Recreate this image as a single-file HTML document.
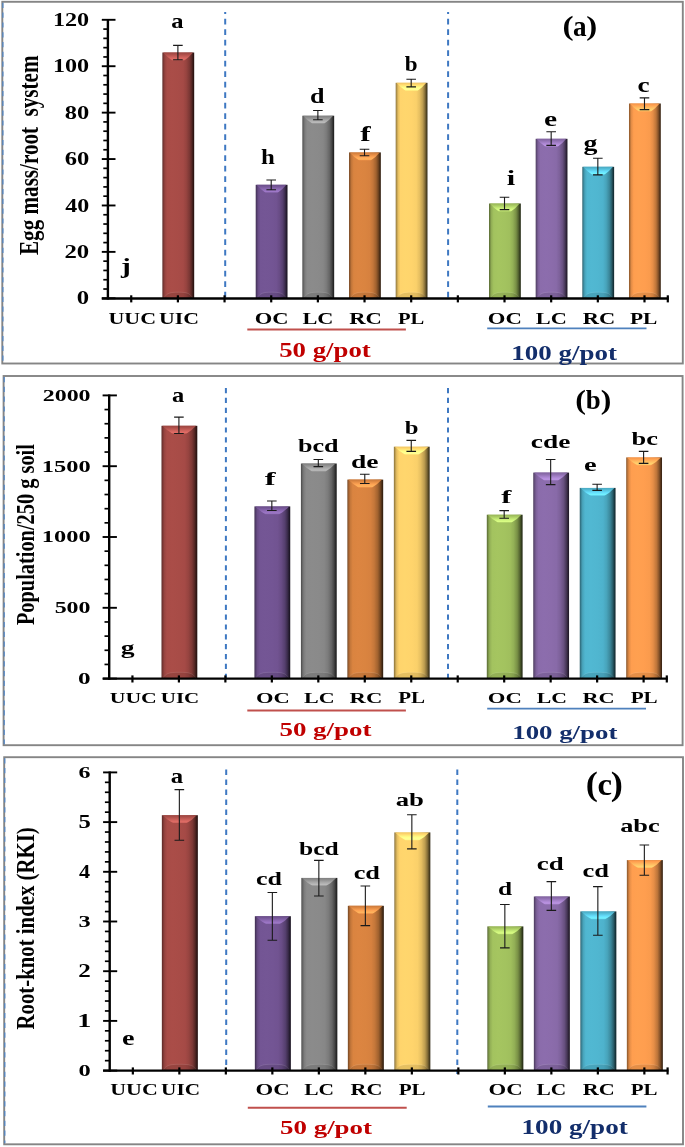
<!DOCTYPE html>
<html><head><meta charset="utf-8"><title>Figure</title>
<style>html,body{margin:0;padding:0;background:#fff;} svg{display:block;will-change:transform} text{font-family:'Liberation Serif',serif;font-weight:bold}</style>
</head><body>
<svg width="685" height="1147" viewBox="0 0 685 1147">
<rect width="685" height="1147" fill="#fff"/>
<defs><linearGradient id="h_red" x1="0" y1="0" x2="1" y2="0"><stop offset="0.00" stop-color="#542624"/><stop offset="0.03" stop-color="#763532"/><stop offset="0.08" stop-color="#974440"/><stop offset="0.15" stop-color="#a84c47"/><stop offset="0.30" stop-color="#aa4d48"/><stop offset="0.50" stop-color="#a84c47"/><stop offset="0.65" stop-color="#a54a46"/><stop offset="0.75" stop-color="#974440"/><stop offset="0.85" stop-color="#7c3835"/><stop offset="0.92" stop-color="#572825"/><stop offset="0.97" stop-color="#321715"/><stop offset="1.00" stop-color="#220f0e"/></linearGradient><linearGradient id="t_red" x1="0" y1="0" x2="0" y2="1"><stop offset="0" stop-color="#9b4641"/><stop offset="0.18" stop-color="#a84c47"/><stop offset="0.6" stop-color="#ce625c"/><stop offset="0.85" stop-color="#e16d66"/><stop offset="1" stop-color="#c25b56"/></linearGradient><linearGradient id="b_red" x1="0" y1="0" x2="0" y2="1"><stop offset="0" stop-color="#fff" stop-opacity="0.10"/><stop offset="0.2" stop-color="#000" stop-opacity="0.06"/><stop offset="1" stop-color="#000" stop-opacity="0.14"/></linearGradient><linearGradient id="h_pdark" x1="0" y1="0" x2="1" y2="0"><stop offset="0.00" stop-color="#3a2a4a"/><stop offset="0.03" stop-color="#503b68"/><stop offset="0.08" stop-color="#684c85"/><stop offset="0.15" stop-color="#735594"/><stop offset="0.30" stop-color="#745695"/><stop offset="0.50" stop-color="#735594"/><stop offset="0.65" stop-color="#715391"/><stop offset="0.75" stop-color="#684c85"/><stop offset="0.85" stop-color="#553f6e"/><stop offset="0.92" stop-color="#3c2c4d"/><stop offset="0.97" stop-color="#221a2c"/><stop offset="1.00" stop-color="#17111e"/></linearGradient><linearGradient id="t_pdark" x1="0" y1="0" x2="0" y2="1"><stop offset="0" stop-color="#6a4e88"/><stop offset="0.18" stop-color="#735594"/><stop offset="0.6" stop-color="#906cb7"/><stop offset="0.85" stop-color="#9e78c8"/><stop offset="1" stop-color="#8765ac"/></linearGradient><linearGradient id="b_pdark" x1="0" y1="0" x2="0" y2="1"><stop offset="0" stop-color="#fff" stop-opacity="0.10"/><stop offset="0.2" stop-color="#000" stop-opacity="0.06"/><stop offset="1" stop-color="#000" stop-opacity="0.14"/></linearGradient><linearGradient id="h_grey" x1="0" y1="0" x2="1" y2="0"><stop offset="0.00" stop-color="#454545"/><stop offset="0.03" stop-color="#616161"/><stop offset="0.08" stop-color="#7c7c7c"/><stop offset="0.15" stop-color="#8a8a8a"/><stop offset="0.30" stop-color="#8b8b8b"/><stop offset="0.50" stop-color="#8a8a8a"/><stop offset="0.65" stop-color="#878787"/><stop offset="0.75" stop-color="#7c7c7c"/><stop offset="0.85" stop-color="#666666"/><stop offset="0.92" stop-color="#484848"/><stop offset="0.97" stop-color="#292929"/><stop offset="1.00" stop-color="#1c1c1c"/></linearGradient><linearGradient id="t_grey" x1="0" y1="0" x2="0" y2="1"><stop offset="0" stop-color="#7f7f7f"/><stop offset="0.18" stop-color="#8a8a8a"/><stop offset="0.6" stop-color="#ababab"/><stop offset="0.85" stop-color="#bbbbbb"/><stop offset="1" stop-color="#a1a1a1"/></linearGradient><linearGradient id="b_grey" x1="0" y1="0" x2="0" y2="1"><stop offset="0" stop-color="#fff" stop-opacity="0.10"/><stop offset="0.2" stop-color="#000" stop-opacity="0.06"/><stop offset="1" stop-color="#000" stop-opacity="0.14"/></linearGradient><linearGradient id="h_obrown" x1="0" y1="0" x2="1" y2="0"><stop offset="0.00" stop-color="#6d4220"/><stop offset="0.03" stop-color="#995c2d"/><stop offset="0.08" stop-color="#c4773a"/><stop offset="0.15" stop-color="#da8440"/><stop offset="0.30" stop-color="#dc8541"/><stop offset="0.50" stop-color="#da8440"/><stop offset="0.65" stop-color="#d6813f"/><stop offset="0.75" stop-color="#c4773a"/><stop offset="0.85" stop-color="#a1622f"/><stop offset="0.92" stop-color="#714521"/><stop offset="0.97" stop-color="#412813"/><stop offset="1.00" stop-color="#2c1a0d"/></linearGradient><linearGradient id="t_obrown" x1="0" y1="0" x2="0" y2="1"><stop offset="0" stop-color="#c9793b"/><stop offset="0.18" stop-color="#da8440"/><stop offset="0.6" stop-color="#ffa454"/><stop offset="0.85" stop-color="#ffb45d"/><stop offset="1" stop-color="#fa9a4e"/></linearGradient><linearGradient id="b_obrown" x1="0" y1="0" x2="0" y2="1"><stop offset="0" stop-color="#fff" stop-opacity="0.10"/><stop offset="0.2" stop-color="#000" stop-opacity="0.06"/><stop offset="1" stop-color="#000" stop-opacity="0.14"/></linearGradient><linearGradient id="h_gold" x1="0" y1="0" x2="1" y2="0"><stop offset="0.00" stop-color="#806a36"/><stop offset="0.03" stop-color="#b2944c"/><stop offset="0.08" stop-color="#e6bf61"/><stop offset="0.15" stop-color="#ffd46c"/><stop offset="0.30" stop-color="#ffd66d"/><stop offset="0.50" stop-color="#ffd46c"/><stop offset="0.65" stop-color="#fad06a"/><stop offset="0.75" stop-color="#e6bf61"/><stop offset="0.85" stop-color="#bd9d50"/><stop offset="0.92" stop-color="#856e38"/><stop offset="0.97" stop-color="#4c4020"/><stop offset="1.00" stop-color="#332a16"/></linearGradient><linearGradient id="t_gold" x1="0" y1="0" x2="0" y2="1"><stop offset="0" stop-color="#ebc363"/><stop offset="0.18" stop-color="#ffd46c"/><stop offset="0.6" stop-color="#ffff87"/><stop offset="0.85" stop-color="#ffff95"/><stop offset="1" stop-color="#fff37f"/></linearGradient><linearGradient id="b_gold" x1="0" y1="0" x2="0" y2="1"><stop offset="0" stop-color="#fff" stop-opacity="0.10"/><stop offset="0.2" stop-color="#000" stop-opacity="0.06"/><stop offset="1" stop-color="#000" stop-opacity="0.14"/></linearGradient><linearGradient id="h_green" x1="0" y1="0" x2="1" y2="0"><stop offset="0.00" stop-color="#526230"/><stop offset="0.03" stop-color="#728842"/><stop offset="0.08" stop-color="#93b056"/><stop offset="0.15" stop-color="#a3c35f"/><stop offset="0.30" stop-color="#a5c560"/><stop offset="0.50" stop-color="#a3c35f"/><stop offset="0.65" stop-color="#a0bf5d"/><stop offset="0.75" stop-color="#93b056"/><stop offset="0.85" stop-color="#799046"/><stop offset="0.92" stop-color="#556531"/><stop offset="0.97" stop-color="#313a1c"/><stop offset="1.00" stop-color="#212713"/></linearGradient><linearGradient id="t_green" x1="0" y1="0" x2="0" y2="1"><stop offset="0" stop-color="#96b357"/><stop offset="0.18" stop-color="#a3c35f"/><stop offset="0.6" stop-color="#c8ee78"/><stop offset="0.85" stop-color="#dbff85"/><stop offset="1" stop-color="#bde070"/></linearGradient><linearGradient id="b_green" x1="0" y1="0" x2="0" y2="1"><stop offset="0" stop-color="#fff" stop-opacity="0.10"/><stop offset="0.2" stop-color="#000" stop-opacity="0.06"/><stop offset="1" stop-color="#000" stop-opacity="0.14"/></linearGradient><linearGradient id="h_purple" x1="0" y1="0" x2="1" y2="0"><stop offset="0.00" stop-color="#463656"/><stop offset="0.03" stop-color="#614c78"/><stop offset="0.08" stop-color="#7d619a"/><stop offset="0.15" stop-color="#8b6cab"/><stop offset="0.30" stop-color="#8c6dad"/><stop offset="0.50" stop-color="#8b6cab"/><stop offset="0.65" stop-color="#886aa8"/><stop offset="0.75" stop-color="#7d619a"/><stop offset="0.85" stop-color="#67507f"/><stop offset="0.92" stop-color="#483859"/><stop offset="0.97" stop-color="#2a2033"/><stop offset="1.00" stop-color="#1c1622"/></linearGradient><linearGradient id="t_purple" x1="0" y1="0" x2="0" y2="1"><stop offset="0" stop-color="#80639d"/><stop offset="0.18" stop-color="#8b6cab"/><stop offset="0.6" stop-color="#ac87d2"/><stop offset="0.85" stop-color="#bd95e5"/><stop offset="1" stop-color="#a27fc6"/></linearGradient><linearGradient id="b_purple" x1="0" y1="0" x2="0" y2="1"><stop offset="0" stop-color="#fff" stop-opacity="0.10"/><stop offset="0.2" stop-color="#000" stop-opacity="0.06"/><stop offset="1" stop-color="#000" stop-opacity="0.14"/></linearGradient><linearGradient id="h_teal" x1="0" y1="0" x2="1" y2="0"><stop offset="0.00" stop-color="#285b68"/><stop offset="0.03" stop-color="#387f92"/><stop offset="0.08" stop-color="#48a4bb"/><stop offset="0.15" stop-color="#50b6d0"/><stop offset="0.30" stop-color="#51b8d2"/><stop offset="0.50" stop-color="#50b6d0"/><stop offset="0.65" stop-color="#4eb2cc"/><stop offset="0.75" stop-color="#48a4bb"/><stop offset="0.85" stop-color="#3b879a"/><stop offset="0.92" stop-color="#2a5f6c"/><stop offset="0.97" stop-color="#18373e"/><stop offset="1.00" stop-color="#10242a"/></linearGradient><linearGradient id="t_teal" x1="0" y1="0" x2="0" y2="1"><stop offset="0" stop-color="#4aa7bf"/><stop offset="0.18" stop-color="#50b6d0"/><stop offset="0.6" stop-color="#66dffd"/><stop offset="0.85" stop-color="#72f3ff"/><stop offset="1" stop-color="#60d2ef"/></linearGradient><linearGradient id="b_teal" x1="0" y1="0" x2="0" y2="1"><stop offset="0" stop-color="#fff" stop-opacity="0.10"/><stop offset="0.2" stop-color="#000" stop-opacity="0.06"/><stop offset="1" stop-color="#000" stop-opacity="0.14"/></linearGradient><linearGradient id="h_orange" x1="0" y1="0" x2="1" y2="0"><stop offset="0.00" stop-color="#804f28"/><stop offset="0.03" stop-color="#b26f37"/><stop offset="0.08" stop-color="#e68e47"/><stop offset="0.15" stop-color="#ff9e4f"/><stop offset="0.30" stop-color="#ffa050"/><stop offset="0.50" stop-color="#ff9e4f"/><stop offset="0.65" stop-color="#fa9b4d"/><stop offset="0.75" stop-color="#e68e47"/><stop offset="0.85" stop-color="#bd753a"/><stop offset="0.92" stop-color="#855229"/><stop offset="0.97" stop-color="#4c2f18"/><stop offset="1.00" stop-color="#332010"/></linearGradient><linearGradient id="t_orange" x1="0" y1="0" x2="0" y2="1"><stop offset="0" stop-color="#eb9149"/><stop offset="0.18" stop-color="#ff9e4f"/><stop offset="0.6" stop-color="#ffc265"/><stop offset="0.85" stop-color="#ffd570"/><stop offset="1" stop-color="#ffb75e"/></linearGradient><linearGradient id="b_orange" x1="0" y1="0" x2="0" y2="1"><stop offset="0" stop-color="#fff" stop-opacity="0.10"/><stop offset="0.2" stop-color="#000" stop-opacity="0.06"/><stop offset="1" stop-color="#000" stop-opacity="0.14"/></linearGradient></defs>
<rect x="2.30" y="1.80" width="680.50" height="361.70" fill="none" stroke="#858585" stroke-width="1.9"/>
<line x1="2.90" y1="2.80" x2="2.90" y2="362.50" stroke="#4F86C8" stroke-width="1.2" stroke-dasharray="5.2 4.6" stroke-dashoffset="0"/>
<line x1="225.20" y1="12.00" x2="225.20" y2="298.00" stroke="#3E78C2" stroke-width="2.0" stroke-dasharray="5.7 4.8" stroke-dashoffset="3.7"/>
<line x1="448.10" y1="12.00" x2="448.10" y2="298.00" stroke="#3E78C2" stroke-width="2.0" stroke-dasharray="5.7 4.8" stroke-dashoffset="3.7"/>
<rect x="162.39" y="52.50" width="31.80" height="246.00" fill="url(#h_red)"/>
<path d="M163.19,52.50 L192.99,52.50 Q188.67,57.71 184.33,60.40 L172.25,60.40 Q167.91,57.71 163.19,52.50 Z" fill="url(#t_red)"/>
<path d="M163.39,298.50 C166.39,293.30 170.39,292.50 178.29,292.50 C186.19,292.50 190.19,293.30 193.19,298.50 Z" fill="#000" fill-opacity="0.10"/>
<path d="M163.89,298.00 C166.89,293.00 170.39,292.20 178.29,292.20 C186.19,292.20 189.69,293.00 192.69,298.00" fill="none" stroke="#fff" stroke-opacity="0.10" stroke-width="1"/>
<rect x="255.71" y="184.80" width="31.80" height="113.70" fill="url(#h_pdark)"/>
<path d="M256.51,184.80 L286.31,184.80 Q281.99,190.01 277.65,192.70 L265.57,192.70 Q261.23,190.01 256.51,184.80 Z" fill="url(#t_pdark)"/>
<path d="M256.71,298.50 C259.71,293.30 263.71,292.50 271.61,292.50 C279.51,292.50 283.51,293.30 286.51,298.50 Z" fill="#000" fill-opacity="0.10"/>
<path d="M257.21,298.00 C260.21,293.00 263.71,292.20 271.61,292.20 C279.51,292.20 283.01,293.00 286.01,298.00" fill="none" stroke="#fff" stroke-opacity="0.10" stroke-width="1"/>
<rect x="302.37" y="115.70" width="31.80" height="182.80" fill="url(#h_grey)"/>
<path d="M303.17,115.70 L332.97,115.70 Q328.65,120.91 324.31,123.60 L312.23,123.60 Q307.89,120.91 303.17,115.70 Z" fill="url(#t_grey)"/>
<path d="M303.37,298.50 C306.37,293.30 310.37,292.50 318.27,292.50 C326.17,292.50 330.17,293.30 333.17,298.50 Z" fill="#000" fill-opacity="0.10"/>
<path d="M303.87,298.00 C306.87,293.00 310.37,292.20 318.27,292.20 C326.17,292.20 329.67,293.00 332.67,298.00" fill="none" stroke="#fff" stroke-opacity="0.10" stroke-width="1"/>
<rect x="349.03" y="152.40" width="31.80" height="146.10" fill="url(#h_obrown)"/>
<path d="M349.83,152.40 L379.63,152.40 Q375.31,157.61 370.97,160.30 L358.89,160.30 Q354.55,157.61 349.83,152.40 Z" fill="url(#t_obrown)"/>
<path d="M350.03,298.50 C353.03,293.30 357.03,292.50 364.93,292.50 C372.83,292.50 376.83,293.30 379.83,298.50 Z" fill="#000" fill-opacity="0.10"/>
<path d="M350.53,298.00 C353.53,293.00 357.03,292.20 364.93,292.20 C372.83,292.20 376.33,293.00 379.33,298.00" fill="none" stroke="#fff" stroke-opacity="0.10" stroke-width="1"/>
<rect x="395.69" y="82.80" width="31.80" height="215.70" fill="url(#h_gold)"/>
<path d="M396.49,82.80 L426.29,82.80 Q421.97,88.01 417.63,90.70 L405.55,90.70 Q401.21,88.01 396.49,82.80 Z" fill="url(#t_gold)"/>
<path d="M396.69,298.50 C399.69,293.30 403.69,292.50 411.59,292.50 C419.49,292.50 423.49,293.30 426.49,298.50 Z" fill="#000" fill-opacity="0.10"/>
<path d="M397.19,298.00 C400.19,293.00 403.69,292.20 411.59,292.20 C419.49,292.20 422.99,293.00 425.99,298.00" fill="none" stroke="#fff" stroke-opacity="0.10" stroke-width="1"/>
<rect x="489.01" y="203.50" width="31.80" height="95.00" fill="url(#h_green)"/>
<path d="M489.81,203.50 L519.61,203.50 Q515.29,208.71 510.95,211.40 L498.87,211.40 Q494.53,208.71 489.81,203.50 Z" fill="url(#t_green)"/>
<path d="M490.01,298.50 C493.01,293.30 497.01,292.50 504.91,292.50 C512.81,292.50 516.81,293.30 519.81,298.50 Z" fill="#000" fill-opacity="0.10"/>
<path d="M490.51,298.00 C493.51,293.00 497.01,292.20 504.91,292.20 C512.81,292.20 516.31,293.00 519.31,298.00" fill="none" stroke="#fff" stroke-opacity="0.10" stroke-width="1"/>
<rect x="535.67" y="138.80" width="31.80" height="159.70" fill="url(#h_purple)"/>
<path d="M536.47,138.80 L566.27,138.80 Q561.95,144.01 557.61,146.70 L545.53,146.70 Q541.19,144.01 536.47,138.80 Z" fill="url(#t_purple)"/>
<path d="M536.67,298.50 C539.67,293.30 543.67,292.50 551.57,292.50 C559.47,292.50 563.47,293.30 566.47,298.50 Z" fill="#000" fill-opacity="0.10"/>
<path d="M537.17,298.00 C540.17,293.00 543.67,292.20 551.57,292.20 C559.47,292.20 562.97,293.00 565.97,298.00" fill="none" stroke="#fff" stroke-opacity="0.10" stroke-width="1"/>
<rect x="582.33" y="166.80" width="31.80" height="131.70" fill="url(#h_teal)"/>
<path d="M583.13,166.80 L612.93,166.80 Q608.61,172.01 604.27,174.70 L592.19,174.70 Q587.85,172.01 583.13,166.80 Z" fill="url(#t_teal)"/>
<path d="M583.33,298.50 C586.33,293.30 590.33,292.50 598.23,292.50 C606.13,292.50 610.13,293.30 613.13,298.50 Z" fill="#000" fill-opacity="0.10"/>
<path d="M583.83,298.00 C586.83,293.00 590.33,292.20 598.23,292.20 C606.13,292.20 609.63,293.00 612.63,298.00" fill="none" stroke="#fff" stroke-opacity="0.10" stroke-width="1"/>
<rect x="628.99" y="103.50" width="31.80" height="195.00" fill="url(#h_orange)"/>
<path d="M629.79,103.50 L659.59,103.50 Q655.27,108.71 650.93,111.40 L638.85,111.40 Q634.51,108.71 629.79,103.50 Z" fill="url(#t_orange)"/>
<path d="M629.99,298.50 C632.99,293.30 636.99,292.50 644.89,292.50 C652.79,292.50 656.79,293.30 659.79,298.50 Z" fill="#000" fill-opacity="0.10"/>
<path d="M630.49,298.00 C633.49,293.00 636.99,292.20 644.89,292.20 C652.79,292.20 656.29,293.00 659.29,298.00" fill="none" stroke="#fff" stroke-opacity="0.10" stroke-width="1"/>
<path d="M177.89,45.40V59.70M173.09,45.40H182.69M173.09,59.70H182.69" stroke="#1a1a1a" stroke-width="1.1" fill="none"/>
<path d="M271.21,180.00V189.70M266.41,180.00H276.01M266.41,189.70H276.01" stroke="#1a1a1a" stroke-width="1.1" fill="none"/>
<path d="M317.87,110.50V119.80M313.07,110.50H322.67M313.07,119.80H322.67" stroke="#1a1a1a" stroke-width="1.1" fill="none"/>
<path d="M364.53,149.20V155.70M359.73,149.20H369.33M359.73,155.70H369.33" stroke="#1a1a1a" stroke-width="1.1" fill="none"/>
<path d="M411.19,79.30V86.90M406.39,79.30H415.99M406.39,86.90H415.99" stroke="#1a1a1a" stroke-width="1.1" fill="none"/>
<path d="M504.51,197.20V209.60M499.71,197.20H509.31M499.71,209.60H509.31" stroke="#1a1a1a" stroke-width="1.1" fill="none"/>
<path d="M551.17,131.80V145.40M546.37,131.80H555.97M546.37,145.40H555.97" stroke="#1a1a1a" stroke-width="1.1" fill="none"/>
<path d="M597.83,158.20V174.90M593.03,158.20H602.63M593.03,174.90H602.63" stroke="#1a1a1a" stroke-width="1.1" fill="none"/>
<path d="M644.49,97.90V109.60M639.69,97.90H649.29M639.69,109.60H649.29" stroke="#1a1a1a" stroke-width="1.1" fill="none"/>
<line x1="107.90" y1="18.90" x2="107.90" y2="299.60" stroke="#000" stroke-width="2.4"/>
<line x1="101.80" y1="298.50" x2="668.60" y2="298.50" stroke="#000" stroke-width="2.3"/>
<line x1="101.80" y1="298.30" x2="115.50" y2="298.30" stroke="#000" stroke-width="1.9"/>
<line x1="101.80" y1="251.88" x2="115.50" y2="251.88" stroke="#000" stroke-width="1.9"/>
<line x1="101.80" y1="205.47" x2="115.50" y2="205.47" stroke="#000" stroke-width="1.9"/>
<line x1="101.80" y1="159.05" x2="115.50" y2="159.05" stroke="#000" stroke-width="1.9"/>
<line x1="101.80" y1="112.64" x2="115.50" y2="112.64" stroke="#000" stroke-width="1.9"/>
<line x1="101.80" y1="66.22" x2="115.50" y2="66.22" stroke="#000" stroke-width="1.9"/>
<line x1="101.80" y1="19.80" x2="115.50" y2="19.80" stroke="#000" stroke-width="1.9"/>
<line x1="103.30" y1="289.02" x2="107.90" y2="289.02" stroke="#000" stroke-width="1.7"/>
<line x1="103.30" y1="279.73" x2="107.90" y2="279.73" stroke="#000" stroke-width="1.7"/>
<line x1="103.30" y1="270.45" x2="107.90" y2="270.45" stroke="#000" stroke-width="1.7"/>
<line x1="103.30" y1="261.17" x2="107.90" y2="261.17" stroke="#000" stroke-width="1.7"/>
<line x1="103.30" y1="242.60" x2="107.90" y2="242.60" stroke="#000" stroke-width="1.7"/>
<line x1="103.30" y1="233.32" x2="107.90" y2="233.32" stroke="#000" stroke-width="1.7"/>
<line x1="103.30" y1="224.03" x2="107.90" y2="224.03" stroke="#000" stroke-width="1.7"/>
<line x1="103.30" y1="214.75" x2="107.90" y2="214.75" stroke="#000" stroke-width="1.7"/>
<line x1="103.30" y1="196.18" x2="107.90" y2="196.18" stroke="#000" stroke-width="1.7"/>
<line x1="103.30" y1="186.90" x2="107.90" y2="186.90" stroke="#000" stroke-width="1.7"/>
<line x1="103.30" y1="177.62" x2="107.90" y2="177.62" stroke="#000" stroke-width="1.7"/>
<line x1="103.30" y1="168.34" x2="107.90" y2="168.34" stroke="#000" stroke-width="1.7"/>
<line x1="103.30" y1="149.77" x2="107.90" y2="149.77" stroke="#000" stroke-width="1.7"/>
<line x1="103.30" y1="140.49" x2="107.90" y2="140.49" stroke="#000" stroke-width="1.7"/>
<line x1="103.30" y1="131.20" x2="107.90" y2="131.20" stroke="#000" stroke-width="1.7"/>
<line x1="103.30" y1="121.92" x2="107.90" y2="121.92" stroke="#000" stroke-width="1.7"/>
<line x1="103.30" y1="103.35" x2="107.90" y2="103.35" stroke="#000" stroke-width="1.7"/>
<line x1="103.30" y1="94.07" x2="107.90" y2="94.07" stroke="#000" stroke-width="1.7"/>
<line x1="103.30" y1="84.79" x2="107.90" y2="84.79" stroke="#000" stroke-width="1.7"/>
<line x1="103.30" y1="75.50" x2="107.90" y2="75.50" stroke="#000" stroke-width="1.7"/>
<line x1="103.30" y1="56.94" x2="107.90" y2="56.94" stroke="#000" stroke-width="1.7"/>
<line x1="103.30" y1="47.65" x2="107.90" y2="47.65" stroke="#000" stroke-width="1.7"/>
<line x1="103.30" y1="38.37" x2="107.90" y2="38.37" stroke="#000" stroke-width="1.7"/>
<line x1="103.30" y1="29.09" x2="107.90" y2="29.09" stroke="#000" stroke-width="1.7"/>
<line x1="131.23" y1="295.30" x2="131.23" y2="302.40" stroke="#000" stroke-width="2.2"/>
<line x1="177.89" y1="295.30" x2="177.89" y2="302.40" stroke="#000" stroke-width="2.2"/>
<line x1="224.55" y1="295.30" x2="224.55" y2="302.40" stroke="#000" stroke-width="2.2"/>
<line x1="271.21" y1="295.30" x2="271.21" y2="302.40" stroke="#000" stroke-width="2.2"/>
<line x1="317.87" y1="295.30" x2="317.87" y2="302.40" stroke="#000" stroke-width="2.2"/>
<line x1="364.53" y1="295.30" x2="364.53" y2="302.40" stroke="#000" stroke-width="2.2"/>
<line x1="411.19" y1="295.30" x2="411.19" y2="302.40" stroke="#000" stroke-width="2.2"/>
<line x1="457.85" y1="295.30" x2="457.85" y2="302.40" stroke="#000" stroke-width="2.2"/>
<line x1="504.51" y1="295.30" x2="504.51" y2="302.40" stroke="#000" stroke-width="2.2"/>
<line x1="551.17" y1="295.30" x2="551.17" y2="302.40" stroke="#000" stroke-width="2.2"/>
<line x1="597.83" y1="295.30" x2="597.83" y2="302.40" stroke="#000" stroke-width="2.2"/>
<line x1="644.49" y1="295.30" x2="644.49" y2="302.40" stroke="#000" stroke-width="2.2"/>
<line x1="667.80" y1="295.30" x2="667.80" y2="302.40" stroke="#000" stroke-width="2.2"/>
<text transform="translate(76.87,304.46) scale(1.3131,1)" style="font-size:18.81px;fill:#000" >0</text>
<text transform="translate(64.45,258.05) scale(1.3172,1)" style="font-size:18.81px;fill:#000" >20</text>
<text transform="translate(65.20,211.63) scale(1.2756,1)" style="font-size:18.81px;fill:#000" >40</text>
<text transform="translate(64.64,165.21) scale(1.3065,1)" style="font-size:18.81px;fill:#000" >60</text>
<text transform="translate(64.70,118.80) scale(1.3030,1)" style="font-size:18.81px;fill:#000" >80</text>
<text transform="translate(52.97,72.38) scale(1.2840,1)" style="font-size:18.81px;fill:#000" >100</text>
<text transform="translate(52.97,25.97) scale(1.2840,1)" style="font-size:18.81px;fill:#000" >120</text>
<text transform="translate(121.02,273.23) scale(1.4040,1)" style="font-size:21.05px;fill:#000" >j</text>
<text transform="translate(171.20,28.49) scale(1.1544,1)" style="font-size:21.25px;fill:#000" >a</text>
<text transform="translate(260.88,163.50) scale(1.1751,1)" style="font-size:21.15px;fill:#000" >h</text>
<text transform="translate(309.95,102.79) scale(1.2622,1)" style="font-size:20.71px;fill:#000" >d</text>
<text transform="translate(360.36,140.80) scale(1.5032,1)" style="font-size:20.85px;fill:#000" >f</text>
<text transform="translate(404.71,70.80) scale(1.1381,1)" style="font-size:20.28px;fill:#000" >b</text>
<text transform="translate(506.72,185.10) scale(1.4479,1)" style="font-size:21.01px;fill:#000" >i</text>
<text transform="translate(543.97,125.80) scale(1.4470,1)" style="font-size:20.42px;fill:#000" >e</text>
<text transform="translate(583.53,149.72) scale(1.3994,1)" style="font-size:19.93px;fill:#000" >g</text>
<text transform="translate(637.55,91.60) scale(1.3496,1)" style="font-size:20.21px;fill:#000" >c</text>
<text transform="translate(108.45,323.83) scale(1.2746,1)" style="font-size:17.25px;fill:#000" >UUC</text>
<text transform="translate(159.05,323.83) scale(1.2649,1)" style="font-size:17.25px;fill:#000" >UIC</text>
<text transform="translate(254.77,323.83) scale(1.3052,1)" style="font-size:17.25px;fill:#000" >OC</text>
<text transform="translate(302.41,323.83) scale(1.2938,1)" style="font-size:17.25px;fill:#000" >LC</text>
<text transform="translate(349.30,323.83) scale(1.3098,1)" style="font-size:17.25px;fill:#000" >RC</text>
<text transform="translate(397.94,324.00) scale(1.1641,1)" style="font-size:17.71px;fill:#000" >PL</text>
<text transform="translate(487.76,323.83) scale(1.3179,1)" style="font-size:17.25px;fill:#000" >OC</text>
<text transform="translate(535.81,323.83) scale(1.2938,1)" style="font-size:17.25px;fill:#000" >LC</text>
<text transform="translate(582.71,323.83) scale(1.3012,1)" style="font-size:17.25px;fill:#000" >RC</text>
<text transform="translate(630.02,324.00) scale(1.2105,1)" style="font-size:17.71px;fill:#000" >PL</text>
<line x1="247.30" y1="329.50" x2="405.90" y2="329.50" stroke="#C0504D" stroke-width="2.0"/>
<line x1="487.20" y1="328.40" x2="646.50" y2="328.40" stroke="#4F81BD" stroke-width="1.8"/>
<text transform="translate(279.13,356.50) scale(1.3317,1)" style="font-size:20.15px;fill:#C00000" >50 g/pot</text>
<text transform="translate(511.34,359.50) scale(1.3001,1)" style="font-size:20.75px;fill:#132E6B" >100 g/pot</text>
<text transform="translate(562.60,35.02) scale(1.2052,1)" style="font-size:27.66px;fill:#000" >(</text>
<text transform="translate(573.12,35.60) scale(0.8937,1)" style="font-size:30.42px;fill:#000" >a</text>
<text transform="translate(586.33,35.02) scale(1.1935,1)" style="font-size:27.66px;fill:#000" >)</text>
<text transform="translate(37.96,254.97) rotate(-90) scale(0.7690,1)" style="font-size:27.46px;fill:#000" xml:space="preserve">Egg mass/root  system</text>
<rect x="3.60" y="376.00" width="679.00" height="369.20" fill="none" stroke="#858585" stroke-width="1.9"/>
<line x1="4.20" y1="377.00" x2="4.20" y2="744.20" stroke="#4F86C8" stroke-width="1.2" stroke-dasharray="5.2 4.6" stroke-dashoffset="0"/>
<line x1="225.90" y1="388.00" x2="225.90" y2="678.00" stroke="#3E78C2" stroke-width="2.0" stroke-dasharray="5.2 4.65" stroke-dashoffset="0"/>
<line x1="448.00" y1="388.00" x2="448.00" y2="678.00" stroke="#3E78C2" stroke-width="2.0" stroke-dasharray="5.2 4.65" stroke-dashoffset="0"/>
<rect x="161.50" y="425.80" width="35.80" height="252.80" fill="url(#h_red)"/>
<path d="M162.31,425.80 L196.11,425.80 Q191.09,431.01 186.21,433.70 L172.60,433.70 Q167.72,431.01 162.31,425.80 Z" fill="url(#t_red)"/>
<path d="M162.50,678.60 C165.50,673.40 169.50,672.60 179.41,672.60 C189.31,672.60 193.31,673.40 196.31,678.60 Z" fill="#000" fill-opacity="0.10"/>
<path d="M163.00,678.10 C166.00,673.10 169.50,672.30 179.41,672.30 C189.31,672.30 192.81,673.10 195.81,678.10" fill="none" stroke="#fff" stroke-opacity="0.10" stroke-width="1"/>
<rect x="254.44" y="506.40" width="35.80" height="172.20" fill="url(#h_pdark)"/>
<path d="M255.24,506.40 L289.04,506.40 Q284.03,511.61 279.15,514.30 L265.54,514.30 Q260.66,511.61 255.24,506.40 Z" fill="url(#t_pdark)"/>
<path d="M255.44,678.60 C258.44,673.40 262.44,672.60 272.34,672.60 C282.24,672.60 286.24,673.40 289.24,678.60 Z" fill="#000" fill-opacity="0.10"/>
<path d="M255.94,678.10 C258.94,673.10 262.44,672.30 272.34,672.30 C282.24,672.30 285.74,673.10 288.74,678.10" fill="none" stroke="#fff" stroke-opacity="0.10" stroke-width="1"/>
<rect x="300.92" y="463.50" width="35.80" height="215.10" fill="url(#h_grey)"/>
<path d="M301.72,463.50 L335.51,463.50 Q330.50,468.71 325.62,471.40 L312.01,471.40 Q307.13,468.71 301.72,463.50 Z" fill="url(#t_grey)"/>
<path d="M301.92,678.60 C304.92,673.40 308.92,672.60 318.81,672.60 C328.71,672.60 332.71,673.40 335.71,678.60 Z" fill="#000" fill-opacity="0.10"/>
<path d="M302.42,678.10 C305.42,673.10 308.92,672.30 318.81,672.30 C328.71,672.30 332.21,673.10 335.21,678.10" fill="none" stroke="#fff" stroke-opacity="0.10" stroke-width="1"/>
<rect x="347.38" y="479.60" width="35.80" height="199.00" fill="url(#h_obrown)"/>
<path d="M348.19,479.60 L381.98,479.60 Q376.97,484.81 372.09,487.50 L358.48,487.50 Q353.60,484.81 348.19,479.60 Z" fill="url(#t_obrown)"/>
<path d="M348.38,678.60 C351.38,673.40 355.38,672.60 365.28,672.60 C375.18,672.60 379.18,673.40 382.18,678.60 Z" fill="#000" fill-opacity="0.10"/>
<path d="M348.88,678.10 C351.88,673.10 355.38,672.30 365.28,672.30 C375.18,672.30 378.68,673.10 381.68,678.10" fill="none" stroke="#fff" stroke-opacity="0.10" stroke-width="1"/>
<rect x="393.86" y="446.70" width="35.80" height="231.90" fill="url(#h_gold)"/>
<path d="M394.66,446.70 L428.45,446.70 Q423.44,451.91 418.56,454.60 L404.95,454.60 Q400.07,451.91 394.66,446.70 Z" fill="url(#t_gold)"/>
<path d="M394.86,678.60 C397.86,673.40 401.86,672.60 411.75,672.60 C421.65,672.60 425.65,673.40 428.65,678.60 Z" fill="#000" fill-opacity="0.10"/>
<path d="M395.36,678.10 C398.36,673.10 401.86,672.30 411.75,672.30 C421.65,672.30 425.15,673.10 428.15,678.10" fill="none" stroke="#fff" stroke-opacity="0.10" stroke-width="1"/>
<rect x="486.80" y="514.70" width="35.80" height="163.90" fill="url(#h_green)"/>
<path d="M487.60,514.70 L521.39,514.70 Q516.38,519.91 511.50,522.60 L497.89,522.60 Q493.01,519.91 487.60,514.70 Z" fill="url(#t_green)"/>
<path d="M487.80,678.60 C490.80,673.40 494.80,672.60 504.69,672.60 C514.60,672.60 518.60,673.40 521.60,678.60 Z" fill="#000" fill-opacity="0.10"/>
<path d="M488.30,678.10 C491.30,673.10 494.80,672.30 504.69,672.30 C514.60,672.30 518.10,673.10 521.10,678.10" fill="none" stroke="#fff" stroke-opacity="0.10" stroke-width="1"/>
<rect x="533.26" y="472.60" width="35.80" height="206.00" fill="url(#h_purple)"/>
<path d="M534.06,472.60 L567.86,472.60 Q562.85,477.81 557.97,480.50 L544.36,480.50 Q539.48,477.81 534.06,472.60 Z" fill="url(#t_purple)"/>
<path d="M534.26,678.60 C537.26,673.40 541.26,672.60 551.16,672.60 C561.06,672.60 565.06,673.40 568.06,678.60 Z" fill="#000" fill-opacity="0.10"/>
<path d="M534.76,678.10 C537.76,673.10 541.26,672.30 551.16,672.30 C561.06,672.30 564.56,673.10 567.56,678.10" fill="none" stroke="#fff" stroke-opacity="0.10" stroke-width="1"/>
<rect x="579.74" y="487.90" width="35.80" height="190.70" fill="url(#h_teal)"/>
<path d="M580.53,487.90 L614.33,487.90 Q609.32,493.11 604.44,495.80 L590.83,495.80 Q585.95,493.11 580.53,487.90 Z" fill="url(#t_teal)"/>
<path d="M580.74,678.60 C583.74,673.40 587.74,672.60 597.63,672.60 C607.53,672.60 611.53,673.40 614.53,678.60 Z" fill="#000" fill-opacity="0.10"/>
<path d="M581.24,678.10 C584.24,673.10 587.74,672.30 597.63,672.30 C607.53,672.30 611.03,673.10 614.03,678.10" fill="none" stroke="#fff" stroke-opacity="0.10" stroke-width="1"/>
<rect x="626.21" y="457.40" width="35.80" height="221.20" fill="url(#h_orange)"/>
<path d="M627.00,457.40 L660.80,457.40 Q655.79,462.61 650.91,465.30 L637.30,465.30 Q632.42,462.61 627.00,457.40 Z" fill="url(#t_orange)"/>
<path d="M627.21,678.60 C630.21,673.40 634.21,672.60 644.11,672.60 C654.00,672.60 658.00,673.40 661.00,678.60 Z" fill="#000" fill-opacity="0.10"/>
<path d="M627.71,678.10 C630.71,673.10 634.21,672.30 644.11,672.30 C654.00,672.30 657.50,673.10 660.50,678.10" fill="none" stroke="#fff" stroke-opacity="0.10" stroke-width="1"/>
<path d="M178.91,417.10V433.50M174.10,417.10H183.71M174.10,433.50H183.71" stroke="#1a1a1a" stroke-width="1.1" fill="none"/>
<path d="M271.84,501.00V510.50M267.04,501.00H276.64M267.04,510.50H276.64" stroke="#1a1a1a" stroke-width="1.1" fill="none"/>
<path d="M318.31,459.50V466.60M313.51,459.50H323.12M313.51,466.60H323.12" stroke="#1a1a1a" stroke-width="1.1" fill="none"/>
<path d="M364.78,474.30V483.50M359.98,474.30H369.58M359.98,483.50H369.58" stroke="#1a1a1a" stroke-width="1.1" fill="none"/>
<path d="M411.25,440.40V451.40M406.45,440.40H416.06M406.45,451.40H416.06" stroke="#1a1a1a" stroke-width="1.1" fill="none"/>
<path d="M504.19,510.60V518.20M499.39,510.60H509.00M499.39,518.20H509.00" stroke="#1a1a1a" stroke-width="1.1" fill="none"/>
<path d="M550.66,459.50V484.60M545.87,459.50H555.46M545.87,484.60H555.46" stroke="#1a1a1a" stroke-width="1.1" fill="none"/>
<path d="M597.13,484.20V490.40M592.34,484.20H601.93M592.34,490.40H601.93" stroke="#1a1a1a" stroke-width="1.1" fill="none"/>
<path d="M643.61,451.40V463.40M638.81,451.40H648.40M638.81,463.40H648.40" stroke="#1a1a1a" stroke-width="1.1" fill="none"/>
<line x1="109.20" y1="394.50" x2="109.20" y2="679.70" stroke="#000" stroke-width="2.4"/>
<line x1="102.80" y1="678.60" x2="667.60" y2="678.60" stroke="#000" stroke-width="2.3"/>
<line x1="102.60" y1="678.60" x2="116.90" y2="678.60" stroke="#000" stroke-width="1.9"/>
<line x1="102.60" y1="607.80" x2="116.90" y2="607.80" stroke="#000" stroke-width="1.9"/>
<line x1="102.60" y1="537.00" x2="116.90" y2="537.00" stroke="#000" stroke-width="1.9"/>
<line x1="102.60" y1="466.20" x2="116.90" y2="466.20" stroke="#000" stroke-width="1.9"/>
<line x1="102.60" y1="395.40" x2="116.90" y2="395.40" stroke="#000" stroke-width="1.9"/>
<line x1="104.50" y1="664.44" x2="109.20" y2="664.44" stroke="#000" stroke-width="1.7"/>
<line x1="104.50" y1="650.28" x2="109.20" y2="650.28" stroke="#000" stroke-width="1.7"/>
<line x1="104.50" y1="636.12" x2="109.20" y2="636.12" stroke="#000" stroke-width="1.7"/>
<line x1="104.50" y1="621.96" x2="109.20" y2="621.96" stroke="#000" stroke-width="1.7"/>
<line x1="104.50" y1="593.64" x2="109.20" y2="593.64" stroke="#000" stroke-width="1.7"/>
<line x1="104.50" y1="579.48" x2="109.20" y2="579.48" stroke="#000" stroke-width="1.7"/>
<line x1="104.50" y1="565.32" x2="109.20" y2="565.32" stroke="#000" stroke-width="1.7"/>
<line x1="104.50" y1="551.16" x2="109.20" y2="551.16" stroke="#000" stroke-width="1.7"/>
<line x1="104.50" y1="522.84" x2="109.20" y2="522.84" stroke="#000" stroke-width="1.7"/>
<line x1="104.50" y1="508.68" x2="109.20" y2="508.68" stroke="#000" stroke-width="1.7"/>
<line x1="104.50" y1="494.52" x2="109.20" y2="494.52" stroke="#000" stroke-width="1.7"/>
<line x1="104.50" y1="480.36" x2="109.20" y2="480.36" stroke="#000" stroke-width="1.7"/>
<line x1="104.50" y1="452.04" x2="109.20" y2="452.04" stroke="#000" stroke-width="1.7"/>
<line x1="104.50" y1="437.88" x2="109.20" y2="437.88" stroke="#000" stroke-width="1.7"/>
<line x1="104.50" y1="423.72" x2="109.20" y2="423.72" stroke="#000" stroke-width="1.7"/>
<line x1="104.50" y1="409.56" x2="109.20" y2="409.56" stroke="#000" stroke-width="1.7"/>
<line x1="132.44" y1="675.40" x2="132.44" y2="682.50" stroke="#000" stroke-width="2.2"/>
<line x1="178.91" y1="675.40" x2="178.91" y2="682.50" stroke="#000" stroke-width="2.2"/>
<line x1="225.38" y1="675.40" x2="225.38" y2="682.50" stroke="#000" stroke-width="2.2"/>
<line x1="271.84" y1="675.40" x2="271.84" y2="682.50" stroke="#000" stroke-width="2.2"/>
<line x1="318.31" y1="675.40" x2="318.31" y2="682.50" stroke="#000" stroke-width="2.2"/>
<line x1="364.78" y1="675.40" x2="364.78" y2="682.50" stroke="#000" stroke-width="2.2"/>
<line x1="411.25" y1="675.40" x2="411.25" y2="682.50" stroke="#000" stroke-width="2.2"/>
<line x1="457.72" y1="675.40" x2="457.72" y2="682.50" stroke="#000" stroke-width="2.2"/>
<line x1="504.19" y1="675.40" x2="504.19" y2="682.50" stroke="#000" stroke-width="2.2"/>
<line x1="550.66" y1="675.40" x2="550.66" y2="682.50" stroke="#000" stroke-width="2.2"/>
<line x1="597.13" y1="675.40" x2="597.13" y2="682.50" stroke="#000" stroke-width="2.2"/>
<line x1="643.61" y1="675.40" x2="643.61" y2="682.50" stroke="#000" stroke-width="2.2"/>
<line x1="666.80" y1="675.40" x2="666.80" y2="682.50" stroke="#000" stroke-width="2.2"/>
<text transform="translate(78.06,684.08) scale(1.5039,1)" style="font-size:16.74px;fill:#000" >0</text>
<text transform="translate(54.64,613.28) scale(1.4319,1)" style="font-size:16.74px;fill:#000" >500</text>
<text transform="translate(41.75,542.48) scale(1.4596,1)" style="font-size:16.74px;fill:#000" >1000</text>
<text transform="translate(41.75,471.68) scale(1.4596,1)" style="font-size:16.74px;fill:#000" >1500</text>
<text transform="translate(42.68,400.88) scale(1.4311,1)" style="font-size:16.74px;fill:#000" >2000</text>
<text transform="translate(120.64,654.31) scale(1.4177,1)" style="font-size:19.52px;fill:#000" >g</text>
<text transform="translate(172.00,402.20) scale(1.2015,1)" style="font-size:20.42px;fill:#000" >a</text>
<text transform="translate(264.86,484.50) scale(1.7511,1)" style="font-size:18.58px;fill:#000" >f</text>
<text transform="translate(297.97,452.01) scale(1.3732,1)" style="font-size:19.01px;fill:#000" >bcd</text>
<text transform="translate(350.90,468.01) scale(1.4393,1)" style="font-size:19.15px;fill:#000" >de</text>
<text transform="translate(404.69,434.41) scale(1.3280,1)" style="font-size:18.58px;fill:#000" >b</text>
<text transform="translate(501.37,502.60) scale(1.6262,1)" style="font-size:18.72px;fill:#000" >f</text>
<text transform="translate(530.74,447.81) scale(1.4423,1)" style="font-size:19.01px;fill:#000" >cde</text>
<text transform="translate(584.00,471.21) scale(1.5031,1)" style="font-size:18.96px;fill:#000" >e</text>
<text transform="translate(631.57,445.02) scale(1.4535,1)" style="font-size:18.16px;fill:#000" >bc</text>
<text transform="translate(109.66,702.54) scale(1.3957,1)" style="font-size:15.61px;fill:#000" >UUC</text>
<text transform="translate(160.77,702.54) scale(1.3456,1)" style="font-size:15.61px;fill:#000" >UIC</text>
<text transform="translate(256.07,702.54) scale(1.4419,1)" style="font-size:15.61px;fill:#000" >OC</text>
<text transform="translate(304.11,702.54) scale(1.4095,1)" style="font-size:15.61px;fill:#000" >LC</text>
<text transform="translate(349.60,702.54) scale(1.4517,1)" style="font-size:15.61px;fill:#000" >RC</text>
<text transform="translate(398.23,702.70) scale(1.3117,1)" style="font-size:16.03px;fill:#000" >PL</text>
<text transform="translate(487.76,702.54) scale(1.4559,1)" style="font-size:15.61px;fill:#000" >OC</text>
<text transform="translate(536.82,702.54) scale(1.3947,1)" style="font-size:15.61px;fill:#000" >LC</text>
<text transform="translate(582.41,702.54) scale(1.4280,1)" style="font-size:15.61px;fill:#000" >RC</text>
<text transform="translate(630.63,702.70) scale(1.3168,1)" style="font-size:16.03px;fill:#000" >PL</text>
<line x1="247.30" y1="710.40" x2="405.90" y2="710.40" stroke="#C0504D" stroke-width="2.0"/>
<line x1="487.20" y1="708.60" x2="646.00" y2="708.60" stroke="#4F81BD" stroke-width="1.8"/>
<text transform="translate(279.42,736.00) scale(1.3895,1)" style="font-size:19.40px;fill:#C00000" >50 g/pot</text>
<text transform="translate(512.25,739.10) scale(1.3630,1)" style="font-size:19.70px;fill:#132E6B" >100 g/pot</text>
<text transform="translate(575.35,408.78) scale(1.1355,1)" style="font-size:28.32px;fill:#000" >(</text>
<text transform="translate(585.76,409.22) scale(0.9713,1)" style="font-size:27.66px;fill:#000" >b</text>
<text transform="translate(600.87,408.78) scale(1.1245,1)" style="font-size:28.32px;fill:#000" >)</text>
<text transform="translate(34.35,625.06) rotate(-90) scale(0.7932,1)" style="font-size:25.68px;fill:#000" xml:space="preserve">Population/250 g soil</text>
<rect x="4.20" y="757.20" width="678.80" height="387.10" fill="none" stroke="#858585" stroke-width="1.9"/>
<line x1="4.80" y1="758.20" x2="4.80" y2="1143.30" stroke="#4F86C8" stroke-width="1.2" stroke-dasharray="5.2 4.6" stroke-dashoffset="0"/>
<line x1="226.20" y1="769.50" x2="226.20" y2="1071.00" stroke="#3E78C2" stroke-width="2.0" stroke-dasharray="5.5 4.5" stroke-dashoffset="0"/>
<line x1="457.30" y1="769.50" x2="457.30" y2="1074.00" stroke="#3E78C2" stroke-width="2.0" stroke-dasharray="5.5 4.5" stroke-dashoffset="0"/>
<rect x="161.85" y="815.20" width="36.00" height="255.40" fill="url(#h_red)"/>
<path d="M162.65,815.20 L196.65,815.20 Q191.60,820.41 186.69,823.10 L173.01,823.10 Q168.10,820.41 162.65,815.20 Z" fill="url(#t_red)"/>
<path d="M162.85,1070.60 C165.85,1065.40 169.85,1064.60 179.85,1064.60 C189.85,1064.60 193.85,1065.40 196.85,1070.60 Z" fill="#000" fill-opacity="0.10"/>
<path d="M163.35,1070.10 C166.35,1065.10 169.85,1064.30 179.85,1064.30 C189.85,1064.30 193.35,1065.10 196.35,1070.10" fill="none" stroke="#fff" stroke-opacity="0.10" stroke-width="1"/>
<rect x="254.85" y="916.20" width="36.00" height="154.40" fill="url(#h_pdark)"/>
<path d="M255.65,916.20 L289.65,916.20 Q284.60,921.41 279.69,924.10 L266.01,924.10 Q261.10,921.41 255.65,916.20 Z" fill="url(#t_pdark)"/>
<path d="M255.85,1070.60 C258.85,1065.40 262.85,1064.60 272.85,1064.60 C282.85,1064.60 286.85,1065.40 289.85,1070.60 Z" fill="#000" fill-opacity="0.10"/>
<path d="M256.35,1070.10 C259.35,1065.10 262.85,1064.30 272.85,1064.30 C282.85,1064.30 286.35,1065.10 289.35,1070.10" fill="none" stroke="#fff" stroke-opacity="0.10" stroke-width="1"/>
<rect x="301.35" y="877.90" width="36.00" height="192.70" fill="url(#h_grey)"/>
<path d="M302.15,877.90 L336.15,877.90 Q331.10,883.11 326.19,885.80 L312.51,885.80 Q307.60,883.11 302.15,877.90 Z" fill="url(#t_grey)"/>
<path d="M302.35,1070.60 C305.35,1065.40 309.35,1064.60 319.35,1064.60 C329.35,1064.60 333.35,1065.40 336.35,1070.60 Z" fill="#000" fill-opacity="0.10"/>
<path d="M302.85,1070.10 C305.85,1065.10 309.35,1064.30 319.35,1064.30 C329.35,1064.30 332.85,1065.10 335.85,1070.10" fill="none" stroke="#fff" stroke-opacity="0.10" stroke-width="1"/>
<rect x="347.85" y="905.80" width="36.00" height="164.80" fill="url(#h_obrown)"/>
<path d="M348.65,905.80 L382.65,905.80 Q377.60,911.01 372.69,913.70 L359.01,913.70 Q354.10,911.01 348.65,905.80 Z" fill="url(#t_obrown)"/>
<path d="M348.85,1070.60 C351.85,1065.40 355.85,1064.60 365.85,1064.60 C375.85,1064.60 379.85,1065.40 382.85,1070.60 Z" fill="#000" fill-opacity="0.10"/>
<path d="M349.35,1070.10 C352.35,1065.10 355.85,1064.30 365.85,1064.30 C375.85,1064.30 379.35,1065.10 382.35,1070.10" fill="none" stroke="#fff" stroke-opacity="0.10" stroke-width="1"/>
<rect x="394.35" y="832.40" width="36.00" height="238.20" fill="url(#h_gold)"/>
<path d="M395.15,832.40 L429.15,832.40 Q424.10,837.61 419.19,840.30 L405.51,840.30 Q400.60,837.61 395.15,832.40 Z" fill="url(#t_gold)"/>
<path d="M395.35,1070.60 C398.35,1065.40 402.35,1064.60 412.35,1064.60 C422.35,1064.60 426.35,1065.40 429.35,1070.60 Z" fill="#000" fill-opacity="0.10"/>
<path d="M395.85,1070.10 C398.85,1065.10 402.35,1064.30 412.35,1064.30 C422.35,1064.30 425.85,1065.10 428.85,1070.10" fill="none" stroke="#fff" stroke-opacity="0.10" stroke-width="1"/>
<rect x="487.35" y="926.40" width="36.00" height="144.20" fill="url(#h_green)"/>
<path d="M488.15,926.40 L522.15,926.40 Q517.10,931.61 512.19,934.30 L498.51,934.30 Q493.60,931.61 488.15,926.40 Z" fill="url(#t_green)"/>
<path d="M488.35,1070.60 C491.35,1065.40 495.35,1064.60 505.35,1064.60 C515.35,1064.60 519.35,1065.40 522.35,1070.60 Z" fill="#000" fill-opacity="0.10"/>
<path d="M488.85,1070.10 C491.85,1065.10 495.35,1064.30 505.35,1064.30 C515.35,1064.30 518.85,1065.10 521.85,1070.10" fill="none" stroke="#fff" stroke-opacity="0.10" stroke-width="1"/>
<rect x="533.85" y="896.50" width="36.00" height="174.10" fill="url(#h_purple)"/>
<path d="M534.65,896.50 L568.65,896.50 Q563.60,901.71 558.69,904.40 L545.01,904.40 Q540.10,901.71 534.65,896.50 Z" fill="url(#t_purple)"/>
<path d="M534.85,1070.60 C537.85,1065.40 541.85,1064.60 551.85,1064.60 C561.85,1064.60 565.85,1065.40 568.85,1070.60 Z" fill="#000" fill-opacity="0.10"/>
<path d="M535.35,1070.10 C538.35,1065.10 541.85,1064.30 551.85,1064.30 C561.85,1064.30 565.35,1065.10 568.35,1070.10" fill="none" stroke="#fff" stroke-opacity="0.10" stroke-width="1"/>
<rect x="580.35" y="911.40" width="36.00" height="159.20" fill="url(#h_teal)"/>
<path d="M581.15,911.40 L615.15,911.40 Q610.10,916.61 605.19,919.30 L591.51,919.30 Q586.60,916.61 581.15,911.40 Z" fill="url(#t_teal)"/>
<path d="M581.35,1070.60 C584.35,1065.40 588.35,1064.60 598.35,1064.60 C608.35,1064.60 612.35,1065.40 615.35,1070.60 Z" fill="#000" fill-opacity="0.10"/>
<path d="M581.85,1070.10 C584.85,1065.10 588.35,1064.30 598.35,1064.30 C608.35,1064.30 611.85,1065.10 614.85,1070.10" fill="none" stroke="#fff" stroke-opacity="0.10" stroke-width="1"/>
<rect x="626.85" y="860.10" width="36.00" height="210.50" fill="url(#h_orange)"/>
<path d="M627.65,860.10 L661.65,860.10 Q656.60,865.31 651.69,868.00 L638.01,868.00 Q633.10,865.31 627.65,860.10 Z" fill="url(#t_orange)"/>
<path d="M627.85,1070.60 C630.85,1065.40 634.85,1064.60 644.85,1064.60 C654.85,1064.60 658.85,1065.40 661.85,1070.60 Z" fill="#000" fill-opacity="0.10"/>
<path d="M628.35,1070.10 C631.35,1065.10 634.85,1064.30 644.85,1064.30 C654.85,1064.30 658.35,1065.10 661.35,1070.10" fill="none" stroke="#fff" stroke-opacity="0.10" stroke-width="1"/>
<path d="M179.35,789.60V840.30M174.55,789.60H184.15M174.55,840.30H184.15" stroke="#1a1a1a" stroke-width="1.1" fill="none"/>
<path d="M272.35,892.50V940.30M267.55,892.50H277.15M267.55,940.30H277.15" stroke="#1a1a1a" stroke-width="1.1" fill="none"/>
<path d="M318.85,860.40V896.00M314.05,860.40H323.65M314.05,896.00H323.65" stroke="#1a1a1a" stroke-width="1.1" fill="none"/>
<path d="M365.35,886.00V925.60M360.55,886.00H370.15M360.55,925.60H370.15" stroke="#1a1a1a" stroke-width="1.1" fill="none"/>
<path d="M411.85,814.70V848.90M407.05,814.70H416.65M407.05,848.90H416.65" stroke="#1a1a1a" stroke-width="1.1" fill="none"/>
<path d="M504.85,904.50V947.90M500.05,904.50H509.65M500.05,947.90H509.65" stroke="#1a1a1a" stroke-width="1.1" fill="none"/>
<path d="M551.35,881.60V910.40M546.55,881.60H556.15M546.55,910.40H556.15" stroke="#1a1a1a" stroke-width="1.1" fill="none"/>
<path d="M597.85,886.60V935.20M593.05,886.60H602.65M593.05,935.20H602.65" stroke="#1a1a1a" stroke-width="1.1" fill="none"/>
<path d="M644.35,845.00V875.30M639.55,845.00H649.15M639.55,875.30H649.15" stroke="#1a1a1a" stroke-width="1.1" fill="none"/>
<line x1="109.70" y1="771.50" x2="109.70" y2="1071.70" stroke="#000" stroke-width="2.4"/>
<line x1="103.10" y1="1070.60" x2="668.40" y2="1070.60" stroke="#000" stroke-width="2.3"/>
<line x1="103.10" y1="1070.60" x2="117.20" y2="1070.60" stroke="#000" stroke-width="1.9"/>
<line x1="103.10" y1="1020.90" x2="117.20" y2="1020.90" stroke="#000" stroke-width="1.9"/>
<line x1="103.10" y1="971.20" x2="117.20" y2="971.20" stroke="#000" stroke-width="1.9"/>
<line x1="103.10" y1="921.50" x2="117.20" y2="921.50" stroke="#000" stroke-width="1.9"/>
<line x1="103.10" y1="871.80" x2="117.20" y2="871.80" stroke="#000" stroke-width="1.9"/>
<line x1="103.10" y1="822.10" x2="117.20" y2="822.10" stroke="#000" stroke-width="1.9"/>
<line x1="103.10" y1="772.40" x2="117.20" y2="772.40" stroke="#000" stroke-width="1.9"/>
<line x1="104.90" y1="1060.66" x2="109.70" y2="1060.66" stroke="#000" stroke-width="1.7"/>
<line x1="104.90" y1="1050.72" x2="109.70" y2="1050.72" stroke="#000" stroke-width="1.7"/>
<line x1="104.90" y1="1040.78" x2="109.70" y2="1040.78" stroke="#000" stroke-width="1.7"/>
<line x1="104.90" y1="1030.84" x2="109.70" y2="1030.84" stroke="#000" stroke-width="1.7"/>
<line x1="104.90" y1="1010.96" x2="109.70" y2="1010.96" stroke="#000" stroke-width="1.7"/>
<line x1="104.90" y1="1001.02" x2="109.70" y2="1001.02" stroke="#000" stroke-width="1.7"/>
<line x1="104.90" y1="991.08" x2="109.70" y2="991.08" stroke="#000" stroke-width="1.7"/>
<line x1="104.90" y1="981.14" x2="109.70" y2="981.14" stroke="#000" stroke-width="1.7"/>
<line x1="104.90" y1="961.26" x2="109.70" y2="961.26" stroke="#000" stroke-width="1.7"/>
<line x1="104.90" y1="951.32" x2="109.70" y2="951.32" stroke="#000" stroke-width="1.7"/>
<line x1="104.90" y1="941.38" x2="109.70" y2="941.38" stroke="#000" stroke-width="1.7"/>
<line x1="104.90" y1="931.44" x2="109.70" y2="931.44" stroke="#000" stroke-width="1.7"/>
<line x1="104.90" y1="911.56" x2="109.70" y2="911.56" stroke="#000" stroke-width="1.7"/>
<line x1="104.90" y1="901.62" x2="109.70" y2="901.62" stroke="#000" stroke-width="1.7"/>
<line x1="104.90" y1="891.68" x2="109.70" y2="891.68" stroke="#000" stroke-width="1.7"/>
<line x1="104.90" y1="881.74" x2="109.70" y2="881.74" stroke="#000" stroke-width="1.7"/>
<line x1="104.90" y1="861.86" x2="109.70" y2="861.86" stroke="#000" stroke-width="1.7"/>
<line x1="104.90" y1="851.92" x2="109.70" y2="851.92" stroke="#000" stroke-width="1.7"/>
<line x1="104.90" y1="841.98" x2="109.70" y2="841.98" stroke="#000" stroke-width="1.7"/>
<line x1="104.90" y1="832.04" x2="109.70" y2="832.04" stroke="#000" stroke-width="1.7"/>
<line x1="104.90" y1="812.16" x2="109.70" y2="812.16" stroke="#000" stroke-width="1.7"/>
<line x1="104.90" y1="802.22" x2="109.70" y2="802.22" stroke="#000" stroke-width="1.7"/>
<line x1="104.90" y1="792.28" x2="109.70" y2="792.28" stroke="#000" stroke-width="1.7"/>
<line x1="104.90" y1="782.34" x2="109.70" y2="782.34" stroke="#000" stroke-width="1.7"/>
<line x1="132.85" y1="1067.40" x2="132.85" y2="1074.50" stroke="#000" stroke-width="2.2"/>
<line x1="179.35" y1="1067.40" x2="179.35" y2="1074.50" stroke="#000" stroke-width="2.2"/>
<line x1="225.85" y1="1067.40" x2="225.85" y2="1074.50" stroke="#000" stroke-width="2.2"/>
<line x1="272.35" y1="1067.40" x2="272.35" y2="1074.50" stroke="#000" stroke-width="2.2"/>
<line x1="318.85" y1="1067.40" x2="318.85" y2="1074.50" stroke="#000" stroke-width="2.2"/>
<line x1="365.35" y1="1067.40" x2="365.35" y2="1074.50" stroke="#000" stroke-width="2.2"/>
<line x1="411.85" y1="1067.40" x2="411.85" y2="1074.50" stroke="#000" stroke-width="2.2"/>
<line x1="458.35" y1="1067.40" x2="458.35" y2="1074.50" stroke="#000" stroke-width="2.2"/>
<line x1="504.85" y1="1067.40" x2="504.85" y2="1074.50" stroke="#000" stroke-width="2.2"/>
<line x1="551.35" y1="1067.40" x2="551.35" y2="1074.50" stroke="#000" stroke-width="2.2"/>
<line x1="597.85" y1="1067.40" x2="597.85" y2="1074.50" stroke="#000" stroke-width="2.2"/>
<line x1="644.35" y1="1067.40" x2="644.35" y2="1074.50" stroke="#000" stroke-width="2.2"/>
<line x1="667.60" y1="1067.40" x2="667.60" y2="1074.50" stroke="#000" stroke-width="2.2"/>
<text transform="translate(78.48,1076.37) scale(1.3880,1)" style="font-size:17.63px;fill:#000" >0</text>
<text transform="translate(77.14,1026.85) scale(1.5695,1)" style="font-size:18.03px;fill:#000" >1</text>
<text transform="translate(78.33,977.15) scale(1.3952,1)" style="font-size:17.96px;fill:#000" >2</text>
<text transform="translate(78.49,927.27) scale(1.3748,1)" style="font-size:17.70px;fill:#000" >3</text>
<text transform="translate(79.12,877.75) scale(1.2226,1)" style="font-size:18.10px;fill:#000" >4</text>
<text transform="translate(78.42,827.87) scale(1.3756,1)" style="font-size:17.89px;fill:#000" >5</text>
<text transform="translate(78.56,778.17) scale(1.3511,1)" style="font-size:17.70px;fill:#000" >6</text>
<text transform="translate(122.11,1044.60) scale(1.3972,1)" style="font-size:20.21px;fill:#000" >e</text>
<text transform="translate(170.80,783.39) scale(1.1648,1)" style="font-size:21.25px;fill:#000" >a</text>
<text transform="translate(256.09,884.51) scale(1.3975,1)" style="font-size:18.58px;fill:#000" >cd</text>
<text transform="translate(298.98,855.31) scale(1.3731,1)" style="font-size:18.58px;fill:#000" >bcd</text>
<text transform="translate(353.68,878.91) scale(1.4145,1)" style="font-size:18.58px;fill:#000" >cd</text>
<text transform="translate(395.73,805.71) scale(1.3876,1)" style="font-size:19.29px;fill:#000" >ab</text>
<text transform="translate(497.99,895.11) scale(1.3043,1)" style="font-size:19.43px;fill:#000" >d</text>
<text transform="translate(536.86,870.40) scale(1.3649,1)" style="font-size:19.72px;fill:#000" >cd</text>
<text transform="translate(582.57,877.00) scale(1.3437,1)" style="font-size:19.72px;fill:#000" >cd</text>
<text transform="translate(620.14,831.61) scale(1.4177,1)" style="font-size:18.58px;fill:#000" >abc</text>
<text transform="translate(110.25,1094.83) scale(1.3172,1)" style="font-size:16.65px;fill:#000" >UUC</text>
<text transform="translate(161.07,1094.83) scale(1.2754,1)" style="font-size:16.65px;fill:#000" >UIC</text>
<text transform="translate(255.56,1094.83) scale(1.3693,1)" style="font-size:16.65px;fill:#000" >OC</text>
<text transform="translate(304.22,1094.83) scale(1.2890,1)" style="font-size:16.65px;fill:#000" >LC</text>
<text transform="translate(350.61,1094.83) scale(1.3299,1)" style="font-size:16.65px;fill:#000" >RC</text>
<text transform="translate(398.63,1095.00) scale(1.2345,1)" style="font-size:17.10px;fill:#000" >PL</text>
<text transform="translate(488.56,1094.83) scale(1.3693,1)" style="font-size:16.65px;fill:#000" >OC</text>
<text transform="translate(536.53,1094.83) scale(1.2844,1)" style="font-size:16.65px;fill:#000" >LC</text>
<text transform="translate(582.81,1094.83) scale(1.3299,1)" style="font-size:16.65px;fill:#000" >RC</text>
<text transform="translate(630.83,1095.00) scale(1.2249,1)" style="font-size:17.10px;fill:#000" >PL</text>
<line x1="247.80" y1="1107.70" x2="406.70" y2="1107.70" stroke="#C0504D" stroke-width="2.0"/>
<line x1="487.80" y1="1106.50" x2="646.40" y2="1106.50" stroke="#4F81BD" stroke-width="1.8"/>
<text transform="translate(280.02,1134.00) scale(1.4323,1)" style="font-size:18.80px;fill:#C00000" >50 g/pot</text>
<text transform="translate(521.53,1133.80) scale(1.3568,1)" style="font-size:20.00px;fill:#132E6B" >100 g/pot</text>
<text transform="translate(585.86,795.08) scale(1.0887,1)" style="font-size:33.50px;fill:#000" >(</text>
<text transform="translate(597.45,794.67) scale(1.0070,1)" style="font-size:32.50px;fill:#000" >c</text>
<text transform="translate(610.81,795.08) scale(1.0897,1)" style="font-size:33.50px;fill:#000" >)</text>
<text transform="translate(33.81,1029.46) rotate(-90) scale(0.8208,1)" style="font-size:25.34px;fill:#000" xml:space="preserve">Root-knot index (RKI)</text>
</svg>
</body></html>
